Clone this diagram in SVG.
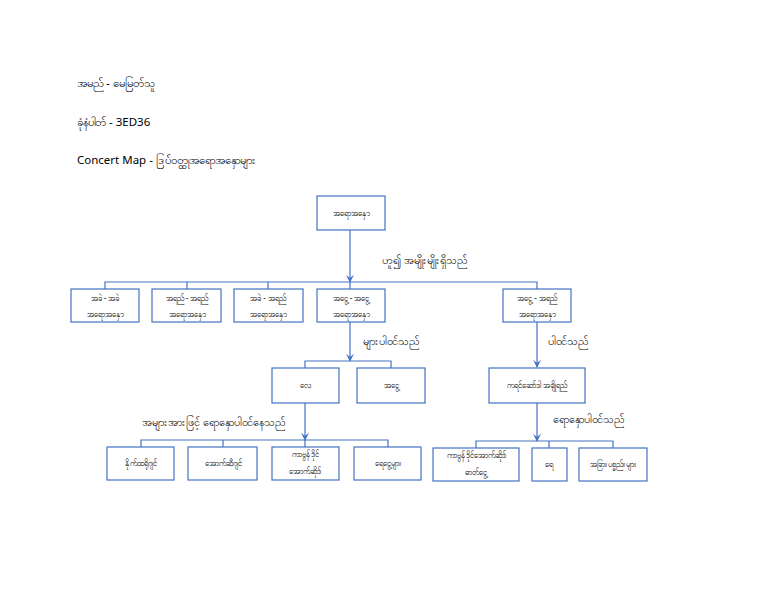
<svg xmlns="http://www.w3.org/2000/svg" width="768" height="594" viewBox="0 0 768 594">
<defs>
<style>
.box{fill:#fff;stroke:#4472C4;stroke-width:1.2}
.ln{fill:none;stroke:#4472C4;stroke-width:1.2}
.t{font-family:"Noto Sans","DejaVu Sans",sans-serif;font-size:8px;fill:#000;text-anchor:middle}
.lbl{font-family:"Noto Sans","DejaVu Sans",sans-serif;font-size:11px;fill:#000}
.hd{font-family:"Noto Sans","DejaVu Sans",sans-serif;font-size:11.5px;fill:#000}
</style>
<marker id="arr" viewBox="0 0 10 10" refX="9" refY="5" markerWidth="8" markerHeight="8" markerUnits="userSpaceOnUse" orient="auto">
<path d="M0,0 L10,5 L0,10 L4,5 z" fill="#4472C4"/>
</marker>
</defs>
<rect width="768" height="594" fill="#fff"/>

<g id="header">
<text class="hd" x="77" y="87">အမည် - မေမြတ်သူ</text>
<text class="hd" x="77" y="126">ခုံနံပါတ် - 3ED36</text>
<text class="hd" x="77" y="164">Concert Map - ဒြပ်ဝတ္ထုအရောအနှောများ</text>
</g>

<g id="connectors">
<path class="ln" d="M350,230 V282" marker-end="url(#arr)"/>
<path class="ln" d="M105,289 V282 H537 V289 M187,282 V289 M268,282 V289 M350,282 V289"/>
<path class="ln" d="M350,322 V361" marker-end="url(#arr)"/>
<path class="ln" d="M305,368 V361 H391 V368"/>
<path class="ln" d="M537,322 V367" marker-end="url(#arr)"/>
<path class="ln" d="M305,403 V440" marker-end="url(#arr)"/>
<path class="ln" d="M141,447 V440 H388 V447 M223,440 V447 M305,440 V447"/>
<path class="ln" d="M537,403 V441" marker-end="url(#arr)"/>
<path class="ln" d="M476,448 V441 H613 V448 M549,441 V448"/>
</g>

<g id="labels">
<text class="lbl" x="382" y="264">ဟူ၍ အမျိုးမျိုးရှိသည်</text>
<text class="lbl" x="363" y="345">များပါဝင်သည်</text>
<text class="lbl" x="548" y="345">ပါဝင်သည်</text>
<text class="lbl" x="142" y="426">အများအားဖြင့် ရောနှောပါဝင်နေသည်</text>
<text class="lbl" x="553" y="423">ရောနှောပါဝင်သည်</text>
</g>

<g id="n-root"><rect class="box" x="317" y="196" width="68" height="34"/><text class="t" x="351" y="216">အရောအနှော</text></g>

<g id="n-ss"><rect class="box" x="71" y="289" width="68" height="33"/><text class="t" x="105" y="301">အခဲ - အခဲ</text><text class="t" x="105" y="317">အရောအနှော</text></g>
<g id="n-ll"><rect class="box" x="152" y="289" width="69" height="33"/><text class="t" x="187" y="301">အရည် - အရည်</text><text class="t" x="187" y="317">အရောအနှော</text></g>
<g id="n-sl"><rect class="box" x="234" y="289" width="69" height="33"/><text class="t" x="268" y="301">အခဲ - အရည်</text><text class="t" x="268" y="317">အရောအနှော</text></g>
<g id="n-gg"><rect class="box" x="317" y="289" width="68" height="33"/><text class="t" x="351" y="301">အငွေ့ - အငွေ့</text><text class="t" x="351" y="317">အရောအနှော</text></g>
<g id="n-gl"><rect class="box" x="503" y="289" width="68" height="33"/><text class="t" x="537" y="301">အငွေ့ - အရည်</text><text class="t" x="537" y="317">အရောအနှော</text></g>

<g id="n-air"><rect class="box" x="272" y="368" width="67" height="35"/><text class="t" x="305" y="388">လေ</text></g>
<g id="n-gas"><rect class="box" x="357" y="368" width="68" height="35"/><text class="t" x="391" y="388">အငွေ့</text></g>
<g id="n-soda"><rect class="box" x="489" y="368" width="96" height="35"/><text class="t" x="537" y="388">ကရင်ဆော်ဒါ အချိုရည်</text></g>

<g id="n-n2"><rect class="box" x="107" y="447" width="67" height="33"/><text class="t" x="141" y="466">နိုက်ထရိုဂျင်</text></g>
<g id="n-o2"><rect class="box" x="188" y="447" width="69" height="33"/><text class="t" x="223" y="466">အောက်ဆီဂျင်</text></g>
<g id="n-co2"><rect class="box" x="272" y="447" width="67" height="33"/><text class="t" x="305" y="457">ကာဗွန်ဒိုင်</text><text class="t" x="305" y="474">အောက်ဆိုဒ်</text></g>
<g id="n-vap"><rect class="box" x="354" y="447" width="67" height="33"/><text class="t" x="388" y="466">ရေငွေ့များ</text></g>

<g id="n-co2gas"><rect class="box" x="433" y="448" width="86" height="33"/><text class="t" x="476" y="458">ကာဗွန်ဒိုင်အောက်ဆိုဒ်</text><text class="t" x="476" y="475">ဓာတ်ငွေ့</text></g>
<g id="n-water"><rect class="box" x="532" y="448" width="35" height="33"/><text class="t" x="549" y="467">ရေ</text></g>
<g id="n-other"><rect class="box" x="579" y="448" width="68" height="33"/><text class="t" x="613" y="467">အခြားပစ္စည်းများ</text></g>
</svg>
